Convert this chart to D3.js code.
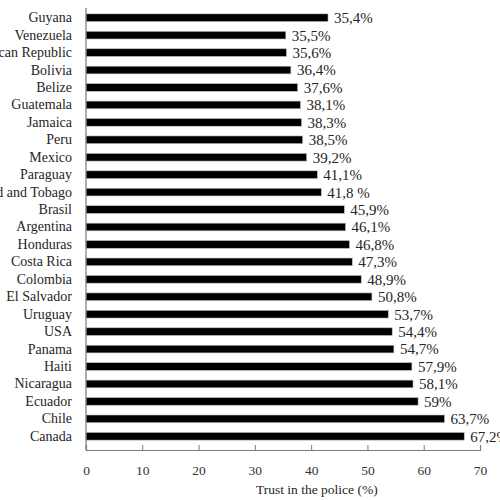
<!DOCTYPE html>
<html>
<head>
<meta charset="utf-8">
<script src="https://cdn.jsdelivr.net/npm/d3@7"></script>
<style>
  body { margin: 0; background: #fff; overflow: hidden; }
  svg text { font-family: 'Liberation Serif', 'Times New Roman', Times, serif !important; fill: #262626; }
</style>
</head>
<body>
<div class="chart"></div>
<script>
// countries top to bottom
var countries = ["Guyana", "Venezuela", "Dominican Republic", "Bolivia", "Belize", "Guatemala",
  "Jamaica", "Peru", "Mexico", "Paraguay", "Trinidad and Tobago", "Brasil", "Argentina",
  "Honduras", "Costa Rica", "Colombia", "El Salvador", "Uruguay", "USA", "Panama", "Haiti",
  "Nicaragua", "Ecuador", "Chile", "Canada"];
// bar lengths as drawn (the Guyana bar is drawn longer than its label says)
var values = [43.0, 35.5, 35.6, 36.4, 37.6, 38.1, 38.3, 38.5, 39.2, 41.1, 41.8, 45.9, 46.1,
  46.8, 47.3, 48.9, 50.8, 53.7, 54.4, 54.7, 57.9, 58.1, 59, 63.7, 67.2];
// labels printed at the bar ends
var valueLabels = ["35,4%", "35,5%", "35,6%", "36,4%", "37,6%", "38,1%", "38,3%", "38,5%",
  "39,2%", "41,1%", "41,8 %", "45,9%", "46,1%", "46,8%", "47,3%", "48,9%", "50,8%", "53,7%",
  "54,4%", "54,7%", "57,9%", "58,1%", "59%", "63,7%", "67,2%"];
var xTicks = [0, 10, 20, 30, 40, 50, 60, 70];
var xTitle = "Trust in the police (%)";

var width = 500, height = 500;
var margin = { top: 8, right: 20, bottom: 50, left: 86 };
var plotW = width - margin.left - margin.right;
var plotH = height - margin.top - margin.bottom;

var svg = d3.select(".chart").append("svg")
  .attr("width", width).attr("height", height);
var g = svg.append("g")
  .attr("transform", "translate(" + margin.left + "," + margin.top + ")");

var x = d3.scaleLinear().domain([0, 70]).range([0, plotW]);
var y = d3.scaleBand().domain(countries).range([1, plotH - 5])
  .paddingInner(0.56).paddingOuter(0.28);

// bars
g.selectAll(".bar").data(countries).enter().append("rect")
  .attr("class", "bar")
  .attr("x", 0)
  .attr("y", function(d) { return y(d); })
  .attr("width", function(d, i) { return x(values[i]); })
  .attr("height", y.bandwidth())
  .style("fill", "#000")
  .style("stroke", "#bdbdbd")
  .style("stroke-width", 0.6);

// value labels
g.selectAll(".val").data(countries).enter().append("text")
  .attr("class", "val")
  .attr("x", function(d, i) { return x(values[i]) + 6; })
  .attr("y", function(d) { return y(d) + y.bandwidth() / 2; })
  .attr("dy", "0.36em")
  .style("font-size", "15px")
  .text(function(d, i) { return valueLabels[i]; });

// y axis: category names, no ticks
var yAxis = g.append("g").call(d3.axisLeft(y).tickSize(0).tickPadding(14));
yAxis.attr("font-family", null);
yAxis.select(".domain").remove();
yAxis.selectAll("text")
  .style("font-size", "14px")
  .style("fill", "#262626");
g.append("line")
  .attr("x1", 0).attr("x2", 0).attr("y1", 0).attr("y2", plotH)
  .style("stroke", "#7a7a7a").style("stroke-width", 1.2);

// x axis with inward ticks
var xAxis = g.append("g")
  .attr("transform", "translate(0," + plotH + ")")
  .call(d3.axisBottom(x).tickValues(xTicks).tickSize(-5).tickPadding(15));
xAxis.attr("font-family", null);
xAxis.select(".domain").style("stroke", "#7a7a7a").style("stroke-width", 1.2);
xAxis.selectAll(".tick line").style("stroke", "#7a7a7a");
xAxis.selectAll("text")
  .style("font-size", "13.5px")
  .style("fill", "#333");

g.append("text")
  .attr("x", x(41))
  .attr("y", plotH + 44)
  .attr("text-anchor", "middle")
  .style("font-size", "13.5px")
  .text(xTitle);
</script>
</body>
</html>
